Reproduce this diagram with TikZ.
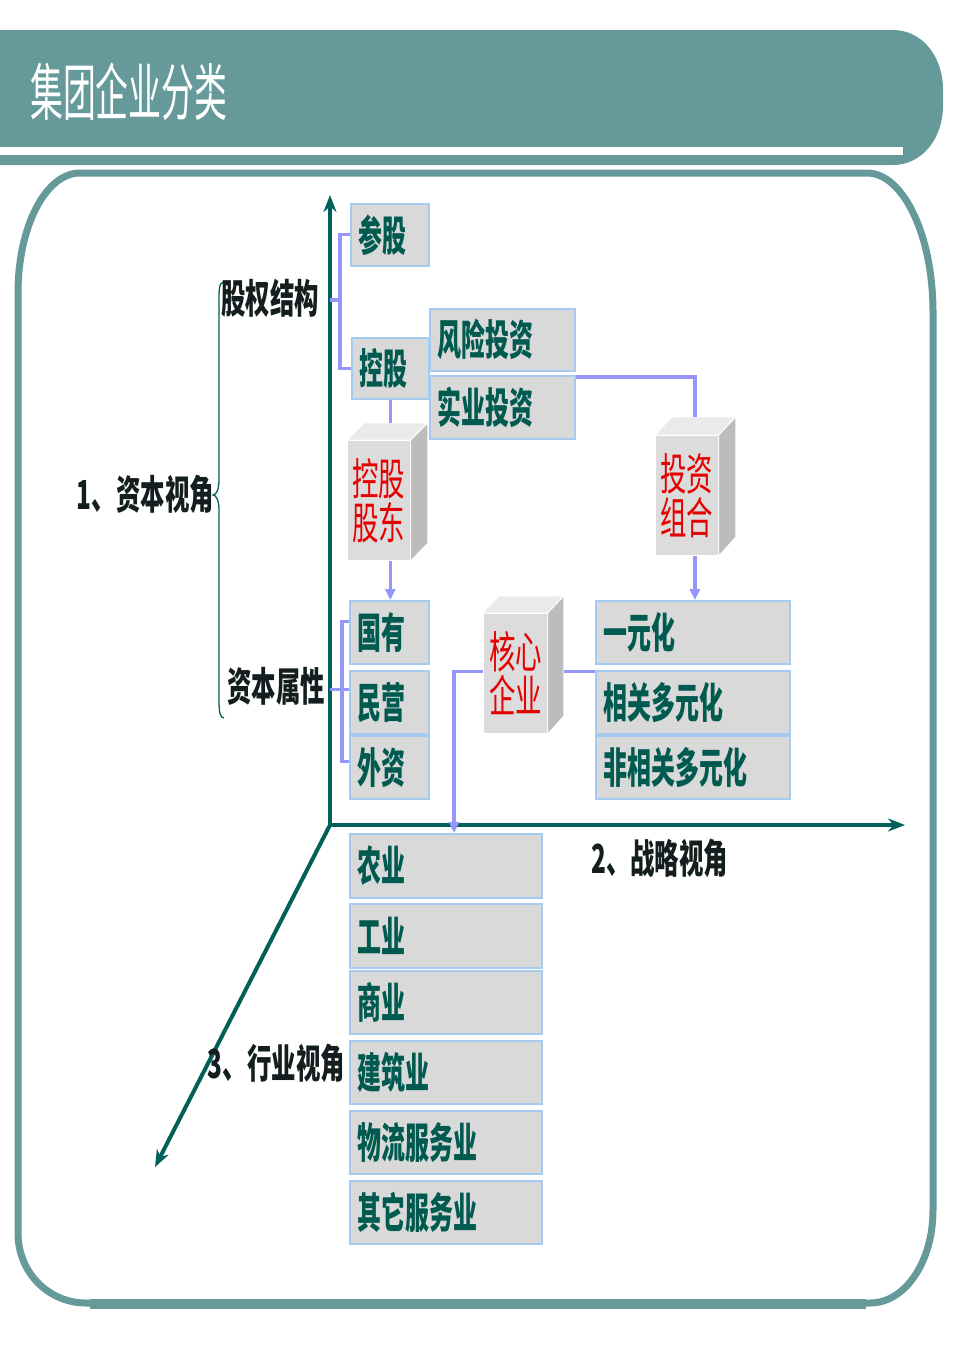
\documentclass[tikz,border=0pt]{standalone}
\usepackage{fontspec}
\usetikzlibrary{arrows.meta,calc}
\newfontfamily\fA[FakeStretch=0.57]{Noto Sans CJK SC}
\newfontfamily\fB[FakeStretch=0.61]{Noto Sans CJK SC}
\newfontfamily\fT[FakeStretch=0.53]{Noto Sans CJK SC}
\newfontfamily\fR[FakeStretch=0.6]{Noto Sans CJK SC}
\definecolor{framec}{RGB}{102,153,153}
\definecolor{axisc}{RGB}{0,96,90}
\definecolor{boxfill}{RGB}{217,217,217}
\definecolor{boxline}{RGB}{165,203,240}
\definecolor{boxtext}{RGB}{0,90,80}
\definecolor{lbltext}{RGB}{20,30,30}
\definecolor{connc}{RGB}{150,150,250}
\definecolor{cubefront}{RGB}{220,220,220}
\definecolor{cubetop}{RGB}{234,234,234}
\definecolor{cubeside}{RGB}{188,188,188}
\definecolor{cubered}{RGB}{230,0,0}
\begin{document}
\begin{tikzpicture}[x=1pt,y=-1pt,
  box/.style={draw=boxline, line width=1.6pt, fill=boxfill, anchor=north west,
    inner xsep=8pt, inner ysep=0pt, align=left, text=boxtext,
    font=\fA\bfseries\fontsize{42}{42}\selectfont},
  lbl/.style={inner sep=0pt, text=lbltext, font=\fB\bfseries\fontsize{40}{40}\selectfont},
  cube/.style={fill=cubefront, draw=white, line width=0.8pt, anchor=north west,
    inner sep=0pt, align=center, text=cubered,
    minimum width=63pt, minimum height=120pt,
    font=\fR\fontsize{44}{44}\selectfont},
  cubetopf/.style={fill=cubetop, draw=white, line width=0.8pt},
  cubesidef/.style={fill=cubeside, draw=white, line width=0.8pt},
  axis/.style={draw=axisc, line width=4pt, -{Stealth[length=17pt,width=13pt]}},
  conn/.style={draw=connc, line width=3.2pt},
  connarr/.style={draw=connc, line width=3.2pt, -{Triangle[length=11pt,width=10pt]}}
]
\useasboundingbox (0,0) rectangle (960,1357);
\fill[white] (0,0) rectangle (960,1357);

% header banner
\fill[framec] (0,30) -- (893,30) .. controls (921,30) and (943,55) .. (943,90)
  -- (943,105) .. controls (943,140) and (921,165) .. (893,165) -- (0,165) -- cycle;
\fill[white] (0,147) rectangle (903,155);
\node[anchor=west, inner sep=0pt, text=white, font=\fT\fontsize{62}{62}\selectfont] (title) at (30,92) {集团企业分类};

% frame
\draw[framec, line width=7pt] (80,173) -- (867,173) .. controls (903,173) and (933,235) .. (933,312)
  -- (933,1210) .. controls (933,1262) and (905,1303) .. (870,1303) -- (86,1303)
  .. controls (49,1303) and (18,1273) .. (18,1233) -- (18,293)
  .. controls (18,226) and (46,173) .. (80,173) -- cycle;
\draw[framec, line width=10pt] (90,1304) -- (866,1304);

% axes
\coordinate (O) at (330,825);
\coordinate (Ytip) at (330,195);
\coordinate (Xtip) at (905,825);
\coordinate (Ztip) at (155,1167);
\draw[axis] (O) -- (Ytip);
\draw[axis] (O) -- (Xtip);
\draw[axis] (O) -- (Ztip);

% brace
\draw[axisc, line width=1.3pt] (224,282) .. controls (219,282) and (219,290) .. (219,300) -- (219,480)
  .. controls (219,490) and (216,495) .. (213,495) .. controls (216,495) and (219,500) .. (219,510)
  -- (219,700) .. controls (219,712) and (220,718) .. (224,718);

% labels
\node[lbl, anchor=west] (gqjg) at (221,298) {股权结构};
\node[lbl, anchor=west] (zbsx) at (227,686) {资本属性};
\node[lbl, anchor=east] (zbsj) at (214,494) {1、资本视角};
\node[lbl, anchor=west] (zlsj) at (591,858) {2、战略视角};
\node[lbl, anchor=east] (hysj) at (345,1063) {3、行业视角};

% boxes
\node[box, minimum width=78pt, minimum height=62pt, text width=62pt] (canggu) at (350,203) {参股};
\node[box, minimum width=77pt, minimum height=61pt, text width=61pt] (konggu) at (351,337) {控股};
\node[box, minimum width=145pt, minimum height=62pt, text width=129pt] (fengxian) at (429,308) {风险投资};
\node[box, minimum width=145pt, minimum height=63pt, text width=129pt] (shiye) at (429,375) {实业投资};
\node[box, minimum width=79pt, minimum height=63pt, text width=63pt] (guoyou) at (349,600) {国有};
\node[box, minimum width=79pt, minimum height=63pt, text width=63pt] (minying) at (349,670) {民营};
\node[box, minimum width=79pt, minimum height=63pt, text width=63pt] (waizi) at (349,735) {外资};
\node[box, minimum width=194pt, minimum height=63pt, text width=178pt] (yiyuan) at (595,600) {一元化};
\node[box, minimum width=194pt, minimum height=63pt, text width=178pt] (xiangguan) at (595,670) {相关多元化};
\node[box, minimum width=194pt, minimum height=63pt, text width=178pt] (feixiang) at (595,735) {非相关多元化};
\node[box, minimum width=192pt, minimum height=64pt, text width=176pt] (nongye) at (349,833) {农业};
\node[box, minimum width=192pt, minimum height=64pt, text width=176pt] (gongye) at (349,903) {工业};
\node[box, minimum width=192pt, minimum height=63pt, text width=176pt] (shangye) at (349,970) {商业};
\node[box, minimum width=192pt, minimum height=63pt, text width=176pt] (jianzhu) at (349,1040) {建筑业};
\node[box, minimum width=192pt, minimum height=63pt, text width=176pt] (wuliu) at (349,1110) {物流服务业};
\node[box, minimum width=192pt, minimum height=63pt, text width=176pt] (qita) at (349,1180) {其它服务业};

% cubes
\node[cube] (kgsd) at (347,440) {控股\\股东};
\fill[cubetopf] (kgsd.north west) -- ++(17,-17) -- ++(63,0) -- (kgsd.north east) -- cycle;
\fill[cubesidef] (kgsd.north east) -- ++(17,-17) -- ++(0,120) -- (kgsd.south east) -- cycle;

\node[cube] (tzzh) at (655,435) {投资\\组合};
\fill[cubetopf] (tzzh.north west) -- ++(17,-18) -- ++(63,0) -- (tzzh.north east) -- cycle;
\fill[cubesidef] (tzzh.north east) -- ++(17,-18) -- ++(0,120) -- (tzzh.south east) -- cycle;

\node[cube, minimum width=64pt] (hxqy) at (483,613) {核心\\企业};
\fill[cubetopf] (hxqy.north west) -- ++(16,-17) -- ++(64,0) -- (hxqy.north east) -- cycle;
\fill[cubesidef] (hxqy.north east) -- ++(16,-17) -- ++(0,120) -- (hxqy.south east) -- cycle;

% connectors
\coordinate (b1) at (340,300);
\draw[conn] (canggu.west) -| (b1) |- (konggu.west);
\draw[conn] (O |- b1) -- (b1);

\coordinate (kgtop) at ($(kgsd.north)+(0,-17)$);
\draw[conn] (konggu.south) -- (konggu.south |- kgtop);
\draw[connarr] (konggu.south |- kgsd.south) -- (konggu.south |- guoyou.north);

\coordinate (g1) at ($(guoyou.west)+(0,-11)$);
\coordinate (g3) at ($(waizi.west)+(0,-6)$);
\coordinate (m1) at ($(minying.west)+(0,-13)$);
\draw[conn] (g1) -- ++(-7,0) |- (g3);
\draw[conn] (O |- m1) -- (m1);

\coordinate (tztop) at ($(tzzh.north)+(8,-18)$);
\draw[conn] ($(shiye.north east)+(0,2)$) -| (tztop);
\draw[connarr] (tztop |- tzzh.south) -- (tztop |- yiyuan.north);

\coordinate (nyin) at ($(nongye.north west)+(105,0)$);
\draw[connarr] ($(hxqy.west)+(0,-2)$) -| (nyin);
\coordinate (hxr) at ($(hxqy.east)+(16,-2)$);
\draw[conn] (hxr) -- (hxr -| yiyuan.west);
\end{tikzpicture}
\end{document}
